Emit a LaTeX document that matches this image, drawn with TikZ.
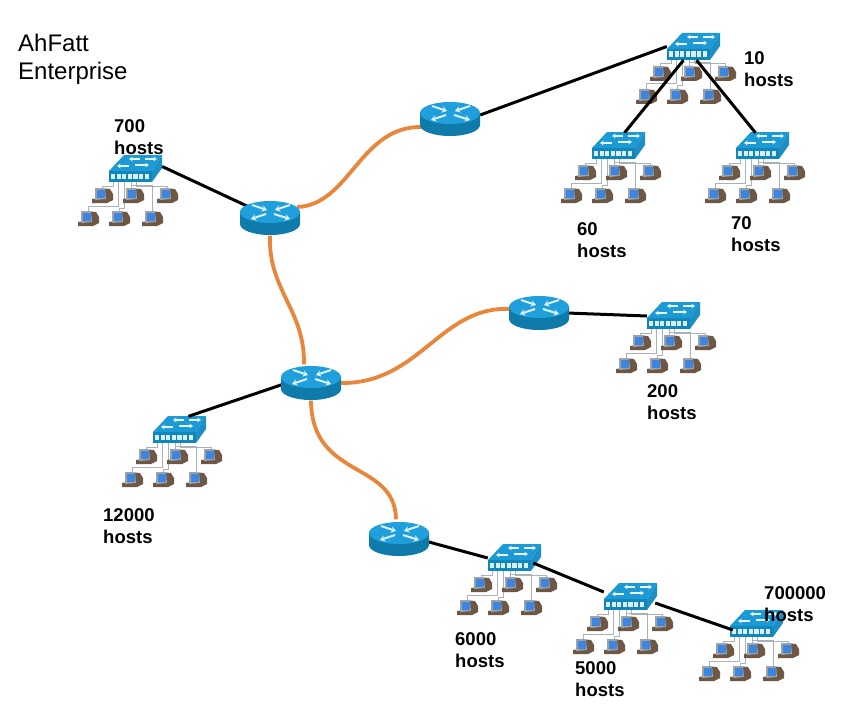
\documentclass[tikz,border=0pt]{standalone}
\usepackage{fontspec}
\setmainfont{Liberation Sans}
\usetikzlibrary{shapes.geometric,arrows.meta,calc}
\definecolor{swtop}{HTML}{1C9AD6}
\definecolor{swfront}{HTML}{0F86BC}
\definecolor{swside}{HTML}{1E8FC4}
\definecolor{rtop}{HTML}{1F9FDB}
\definecolor{rside}{HTML}{0E7BAA}
\definecolor{linkorange}{HTML}{E8863C}
\definecolor{pcbody}{HTML}{6E5744}
\definecolor{pcframe}{HTML}{9AA3AA}
\definecolor{pcscreen}{HTML}{3E85E0}
\definecolor{wire}{HTML}{A9B2B8}
\tikzset{
  x=1pt,y=-1pt,
  blacklink/.style={line width=3pt,black},
  orangelink/.style={line width=3.8pt,linkorange},
  hostlabel/.style={font=\fontsize{18.5}{22}\selectfont\bfseries,align=left,anchor=north west,inner sep=0pt},
  titlelabel/.style={font=\fontsize{24}{28}\selectfont,align=left,anchor=north west,inner sep=0pt},
  routernode/.style={ellipse,minimum width=60pt,minimum height=23pt,inner sep=0pt,draw=none},
  switchnode/.style={rectangle,minimum width=53pt,minimum height=27pt,inner sep=0pt,draw=none},
  pc/.pic={
    \fill[pcbody] (-3,-7) -- (8,-6) -- (11,-1) -- (11,5) -- (5,8) -- (-10,8) -- (-10,4) -- (-3,3) -- cycle;
    \fill[pcframe] (-7,-7) -- (3,-7) -- (4,4) -- (-7,5) -- cycle;
    \fill[pcscreen] (-5,-5) rectangle (2.5,3);
  },
  router/.pic={
    \fill[rside] (-30,0) -- (-30,12) arc[start angle=180,end angle=0,x radius=30,y radius=11] -- (30,0) -- cycle;
    \fill[rtop] (0,0) ellipse[x radius=30,y radius=11];
    \begin{scope}[white!85!rtop,line width=2pt,-{Stealth[length=5pt,width=6.5pt]}]
      \draw (-18,-7) -- (-3,-2);
      \draw (-4,2) -- (-19,7);
      \draw (20,-7) -- (5,-2);
      \draw (4,2) -- (20,7);
    \end{scope}
  },
  lan/.pic={
    \begin{scope}[wire,line width=1pt]
      \draw (4,11) -- (4,15) -- (-7,15) -- (-7,20);
      \draw (22,11) -- (22,20);
      \draw (27,11) -- (27,15) -- (58,15) -- (58,20);
      \draw (9,11) -- (9,35) -- (-21,35) -- (-21,40);
      \draw (15,11) -- (15,37) -- (10,37) -- (10,40);
      \draw (22,11) -- (22,14) -- (43,14) -- (43,40);
    \end{scope}
    \pic at (-7,24) {pc};
    \pic at (24,24) {pc};
    \pic at (58,24) {pc};
    \pic at (-21,47) {pc};
    \pic at (10,47) {pc};
    \pic at (43,47) {pc};
    \fill[swfront] (0,0) -- (43,0) -- (43,11) -- (0,11) -- cycle;
    \fill[swside] (43,0) -- (53,-16) -- (53,-3) -- (43,11) -- cycle;
    \fill[swtop] (0,0) -- (15,-16) -- (53,-16) -- (43,0) -- cycle;
    \foreach \k in {0,...,6} \fill[white!85!swfront] (2+5.6*\k,2.5) rectangle ++(4.2,5.5);
    \begin{scope}[white!90!swtop,line width=1.4pt,-{Stealth[length=3.5pt,width=4.5pt]}]
      \draw (31,-12) -- (20,-12);
      \draw (36,-12) -- (48,-12);
      \draw (20,-5) -- (8,-5);
      \draw (26,-6) -- (40,-6);
    \end{scope}
  },
}
\begin{document}
\begin{tikzpicture}
\useasboundingbox (0,0) rectangle (842,706);
\fill[white] (0,0) rectangle (842,706);

% named nodes, placed first so that links can use them
\node[routernode] (r1) at (270,212) {};
\node[routernode] (r2) at (450,113) {};
\node[routernode] (r3) at (311,377) {};
\node[routernode] (r4) at (539,307) {};
\node[routernode] (r5) at (399,533) {};
\node[switchnode] (s700) at (135.5,168.5) {};
\node[switchnode] (s10) at (693.5,46.5) {};
\node[switchnode] (s60) at (618.5,145.5) {};
\node[switchnode] (s70) at (762.5,145.5) {};
\node[switchnode] (s200) at (673.5,316) {};
\node[switchnode] (s12000) at (179.5,430) {};
\node[switchnode] (s6000) at (514.5,558) {};
\node[switchnode] (s5000) at (630.5,597) {};
\node[switchnode] (s700000) at (756.5,624) {};

% LANs
\pic at (109,171) {lan};
\pic at (667,49) {lan};
\pic at (592,148) {lan};
\pic at (736,148) {lan};
\pic at (647,318) {lan};
\pic at (153,432) {lan};
\pic at (488,560) {lan};
\pic at (604,599) {lan};
\pic at (730,626) {lan};

% black links
\draw[blacklink] ($(r2.east)+(0,2)$) -- (s10.west);
\draw[blacklink] ($(s700.east)+(0,-2)$) -- ($(r1.north west)+(2,4)$);
\draw[blacklink] ($(r3.west)+(3,7)$) -- ($(s12000.north)+(9,0)$);
\draw[blacklink] ($(r4.east)+(-2,6)$) -- (s200.west);
\draw[blacklink] ($(r5.east)+(-4,8)$) -- (s6000.west);
\draw[blacklink] ($(s6000.east)+(-8,5)$) -- ($(s5000.west)+(0,-5)$);
\draw[blacklink] ($(s5000.east)+(-2,6)$) -- ($(s700000.west)+(3,6)$);
\draw[blacklink] ($(s10.south)+(-10,0)$) -- ($(s60.north)+(6,1)$);
\draw[blacklink] ($(s10.south)+(3,0)$) -- ($(s70.north)+(-7,1)$);

% orange links
\draw[orangelink] ($(r1.east)+(-3,-5)$) .. controls (350,205) and (360,125) .. ($(r2.west)+(3,14)$);
\draw[orangelink] ($(r1.south)+(0,12)$) .. controls (268,290) and (305,310) .. ($(r3.north)+(-7,-1)$);
\draw[orangelink] ($(r3.east)+(-2,6)$) .. controls (420,385) and (440,305) .. ($(r4.west)+(2,2)$);
\draw[orangelink] ($(r3.south)+(0,12)$) .. controls (312,480) and (395,460) .. ($(r5.north)+(-3,-2)$);

% routers
\pic at (r1) {router};
\pic at (r2) {router};
\pic at (r3) {router};
\pic at (r4) {router};
\pic at (r5) {router};

% labels
\node[titlelabel] (title) at (18,34) {AhFatt\\Enterprise};
\node[hostlabel] (l700) at (114,119) {700\\hosts};
\node[hostlabel] (l10) at (744,51) {10\\hosts};
\node[hostlabel] (l60) at (577,222) {60\\hosts};
\node[hostlabel] (l70) at (731,216) {70\\hosts};
\node[hostlabel] (l200) at (647,384) {200\\hosts};
\node[hostlabel] (l12000) at (103,508) {12000\\hosts};
\node[hostlabel] (l6000) at (455,632) {6000\\hosts};
\node[hostlabel] (l5000) at (575,661) {5000\\hosts};
\node[hostlabel] (l700000) at (764,586) {700000\\hosts};
\end{tikzpicture}
\end{document}
